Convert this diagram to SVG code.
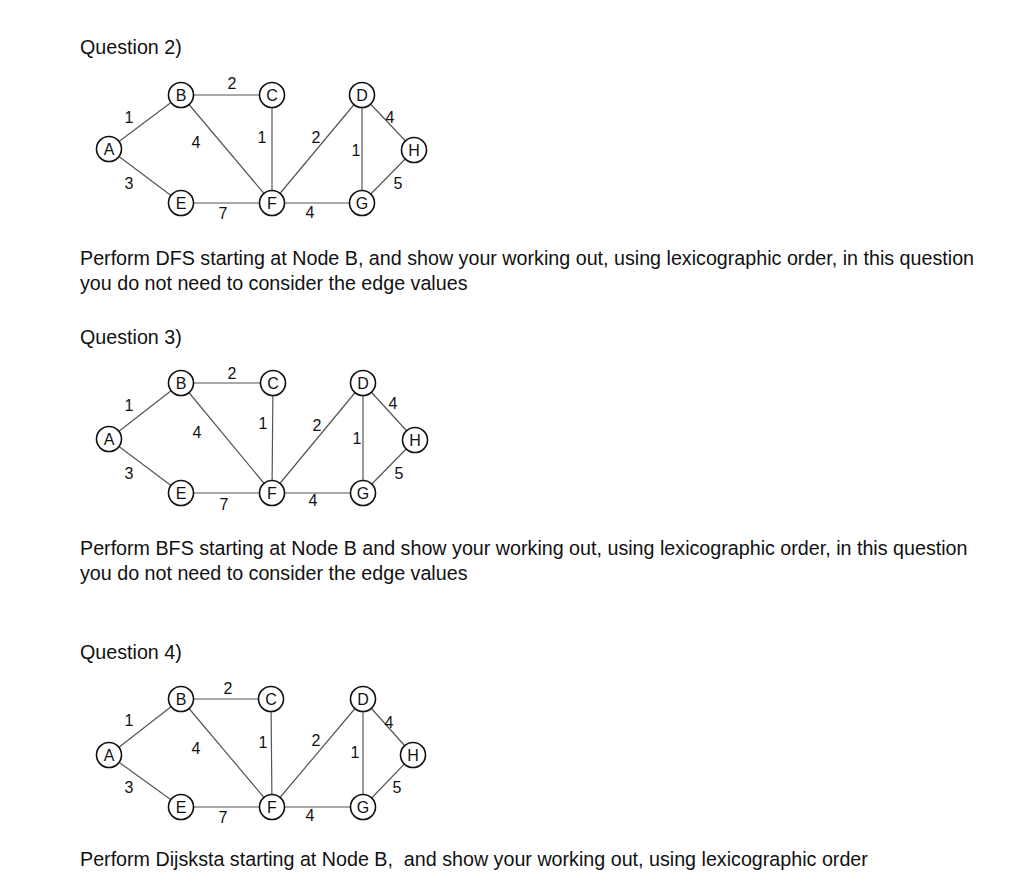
<svg xmlns="http://www.w3.org/2000/svg" width="1024" height="891" viewBox="0 0 1024 891">
<style>
.bg{fill:#ffffff}
.txt{font-family:"Liberation Sans",Arial,sans-serif;font-size:19.7px;fill:#111111}
.edge{stroke:#555555;stroke-width:1.2;fill:none}
.node circle{fill:#ffffff;stroke:#111111;stroke-width:1.6}
.node text{font-family:"Liberation Sans",Arial,sans-serif;font-size:16px;fill:#111111;text-anchor:middle}
.w{font-family:"Liberation Sans",Arial,sans-serif;font-size:16px;fill:#111111;text-anchor:middle}
</style>
<rect class="bg" x="0" y="0" width="1024" height="891"/>

<text class="txt" x="80" y="54">Question 2)</text>
<text class="txt" x="80" y="265">Perform DFS starting at Node B, and show your working out, using lexicographic order, in this question</text>
<text class="txt" x="80" y="290">you do not need to consider the edge values</text>
<text class="txt" x="80" y="344">Question 3)</text>
<text class="txt" x="80" y="555">Perform BFS starting at Node B and show your working out, using lexicographic order, in this question</text>
<text class="txt" x="80" y="580">you do not need to consider the edge values</text>
<text class="txt" x="80" y="659">Question 4)</text>
<text class="txt" x="80" y="866" xml:space="preserve">Perform Dijsksta starting at Node B,  and show your working out, using lexicographic order</text>

<!-- Graph 1 -->
<g id="q2-edges">
<line class="edge" x1="109" y1="149" x2="181" y2="95"/>
<line class="edge" x1="109" y1="149" x2="181" y2="203"/>
<line class="edge" x1="181" y1="95" x2="272" y2="95"/>
<line class="edge" x1="181" y1="95" x2="272" y2="203"/>
<line class="edge" x1="272" y1="95" x2="272" y2="203"/>
<line class="edge" x1="181" y1="203" x2="272" y2="203"/>
<line class="edge" x1="272" y1="203" x2="362" y2="95"/>
<line class="edge" x1="272" y1="203" x2="362" y2="203"/>
<line class="edge" x1="362" y1="95" x2="362" y2="203"/>
<line class="edge" x1="362" y1="95" x2="414" y2="150"/>
<line class="edge" x1="362" y1="203" x2="414" y2="150"/>
<text class="w" x="232" y="88.5">2</text>
<text class="w" x="129" y="122.5">1</text>
<text class="w" x="129" y="188.5">3</text>
<text class="w" x="196" y="147.5">4</text>
<text class="w" x="262" y="142.5">1</text>
<text class="w" x="316" y="142.5">2</text>
<text class="w" x="356" y="155.5">1</text>
<text class="w" x="390" y="122.5">4</text>
<text class="w" x="398" y="188.5">5</text>
<text class="w" x="223" y="218.5">7</text>
<text class="w" x="310" y="217.5">4</text>
</g>
<g id="q2-A" class="node"><circle cx="109" cy="149" r="12.5"/><text x="109" y="154.8">A</text></g>
<g id="q2-B" class="node"><circle cx="181" cy="95" r="12.5"/><text x="181" y="100.8">B</text></g>
<g id="q2-C" class="node"><circle cx="272" cy="95" r="12.5"/><text x="272" y="100.8">C</text></g>
<g id="q2-D" class="node"><circle cx="362" cy="95" r="12.5"/><text x="362" y="100.8">D</text></g>
<g id="q2-H" class="node"><circle cx="414" cy="150" r="12.5"/><text x="414" y="155.8">H</text></g>
<g id="q2-E" class="node"><circle cx="181" cy="203" r="12.5"/><text x="181" y="208.8">E</text></g>
<g id="q2-F" class="node"><circle cx="272" cy="203" r="12.5"/><text x="272" y="208.8">F</text></g>
<g id="q2-G" class="node"><circle cx="362" cy="203" r="12.5"/><text x="362" y="208.8">G</text></g>

<!-- Graph 2 -->
<g id="q3-edges">
<line class="edge" x1="109" y1="439" x2="181" y2="383"/>
<line class="edge" x1="109" y1="439" x2="181" y2="493"/>
<line class="edge" x1="181" y1="383" x2="273" y2="383"/>
<line class="edge" x1="181" y1="383" x2="272" y2="493"/>
<line class="edge" x1="273" y1="383" x2="272" y2="493"/>
<line class="edge" x1="181" y1="493" x2="272" y2="493"/>
<line class="edge" x1="272" y1="493" x2="363" y2="383"/>
<line class="edge" x1="272" y1="493" x2="363" y2="493"/>
<line class="edge" x1="363" y1="383" x2="363" y2="493"/>
<line class="edge" x1="363" y1="383" x2="415" y2="440"/>
<line class="edge" x1="363" y1="493" x2="415" y2="440"/>
<text class="w" x="232" y="378.5">2</text>
<text class="w" x="129" y="410.5">1</text>
<text class="w" x="129" y="478.5">3</text>
<text class="w" x="197" y="437.5">4</text>
<text class="w" x="263" y="428.5">1</text>
<text class="w" x="317" y="430.5">2</text>
<text class="w" x="357" y="443.5">1</text>
<text class="w" x="393" y="408.5">4</text>
<text class="w" x="399" y="478.5">5</text>
<text class="w" x="224" y="509.5">7</text>
<text class="w" x="313" y="505.5">4</text>
</g>
<g id="q3-A" class="node"><circle cx="109" cy="439" r="12.5"/><text x="109" y="444.8">A</text></g>
<g id="q3-B" class="node"><circle cx="181" cy="383" r="12.5"/><text x="181" y="388.8">B</text></g>
<g id="q3-C" class="node"><circle cx="273" cy="383" r="12.5"/><text x="273" y="388.8">C</text></g>
<g id="q3-D" class="node"><circle cx="363" cy="383" r="12.5"/><text x="363" y="388.8">D</text></g>
<g id="q3-H" class="node"><circle cx="415" cy="440" r="12.5"/><text x="415" y="445.8">H</text></g>
<g id="q3-E" class="node"><circle cx="181" cy="493" r="12.5"/><text x="181" y="498.8">E</text></g>
<g id="q3-F" class="node"><circle cx="272" cy="493" r="12.5"/><text x="272" y="498.8">F</text></g>
<g id="q3-G" class="node"><circle cx="363" cy="493" r="12.5"/><text x="363" y="498.8">G</text></g>

<!-- Graph 3 -->
<g id="q4-edges">
<line class="edge" x1="109" y1="755" x2="181" y2="699"/>
<line class="edge" x1="109" y1="755" x2="181" y2="807"/>
<line class="edge" x1="181" y1="699" x2="271" y2="699"/>
<line class="edge" x1="181" y1="699" x2="272" y2="807"/>
<line class="edge" x1="271" y1="699" x2="272" y2="807"/>
<line class="edge" x1="181" y1="807" x2="272" y2="807"/>
<line class="edge" x1="272" y1="807" x2="363" y2="699"/>
<line class="edge" x1="272" y1="807" x2="363" y2="807"/>
<line class="edge" x1="363" y1="699" x2="363" y2="807"/>
<line class="edge" x1="363" y1="699" x2="413" y2="755"/>
<line class="edge" x1="363" y1="807" x2="413" y2="755"/>
<text class="w" x="228" y="693.5">2</text>
<text class="w" x="129" y="725.5">1</text>
<text class="w" x="129" y="792.5">3</text>
<text class="w" x="196" y="753.5">4</text>
<text class="w" x="263" y="747.5">1</text>
<text class="w" x="316" y="745.5">2</text>
<text class="w" x="355" y="757.5">1</text>
<text class="w" x="389" y="727.5">4</text>
<text class="w" x="397" y="792.5">5</text>
<text class="w" x="223" y="822.5">7</text>
<text class="w" x="310" y="820.5">4</text>
</g>
<g id="q4-A" class="node"><circle cx="109" cy="755" r="12.5"/><text x="109" y="760.8">A</text></g>
<g id="q4-B" class="node"><circle cx="181" cy="699" r="12.5"/><text x="181" y="704.8">B</text></g>
<g id="q4-C" class="node"><circle cx="271" cy="699" r="12.5"/><text x="271" y="704.8">C</text></g>
<g id="q4-D" class="node"><circle cx="363" cy="699" r="12.5"/><text x="363" y="704.8">D</text></g>
<g id="q4-H" class="node"><circle cx="413" cy="755" r="12.5"/><text x="413" y="760.8">H</text></g>
<g id="q4-E" class="node"><circle cx="181" cy="807" r="12.5"/><text x="181" y="812.8">E</text></g>
<g id="q4-F" class="node"><circle cx="272" cy="807" r="12.5"/><text x="272" y="812.8">F</text></g>
<g id="q4-G" class="node"><circle cx="363" cy="807" r="12.5"/><text x="363" y="812.8">G</text></g>
</svg>
